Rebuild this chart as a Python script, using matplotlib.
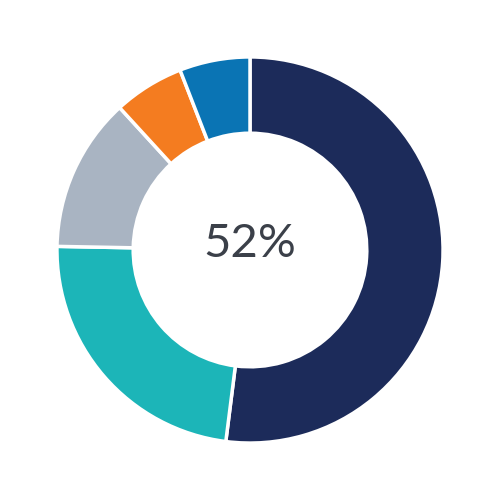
import matplotlib
matplotlib.use("Agg")
import matplotlib.pyplot as plt

# slice shares, clockwise from the top
labels = ["Navy", "Teal", "Gray", "Orange", "Blue"]
shares = [52, 23.3, 12.9, 5.9, 5.9]
colors = ["#1c2b5a", "#1cb5b8", "#a9b4c2", "#f47c20", "#0a74b4"]
center_text = "52%"

fig, ax = plt.subplots(figsize=(5, 5), dpi=100)
fig.subplots_adjust(left=0, right=1, bottom=0, top=1)

ax.pie(
    shares,
    colors=colors,
    startangle=90,
    counterclock=False,
    radius=1.0,
    wedgeprops=dict(width=0.395, edgecolor="white", linewidth=2.5),
)
ax.text(0, 0.03, center_text, ha="center", va="center",
        fontsize=34, family=["Lato", "DejaVu Sans"], color="#3b4049")

ax.set_xlim(-1.295, 1.295)
ax.set_ylim(-1.295, 1.295)
ax.set_aspect("equal")
ax.axis("off")

fig.savefig("out.png", dpi=100, facecolor="white")
